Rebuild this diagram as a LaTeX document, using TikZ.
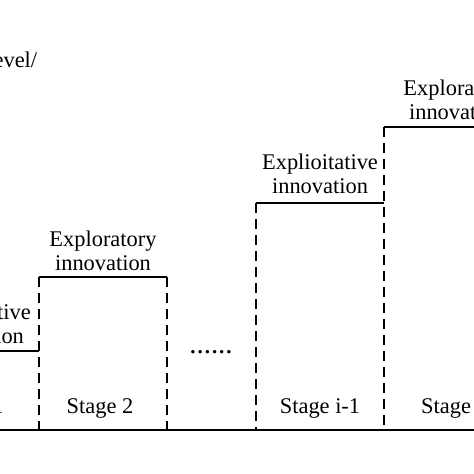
\documentclass[tikz,border=0pt]{standalone}
\usepackage{fontspec}
\setmainfont{Liberation Serif}
\usetikzlibrary{positioning}

\begin{document}
\begin{tikzpicture}[x = 1bp, y = 1bp, line width = 1.7bp,
	bound/.style = {dash pattern = on 10bp off 6bp},
	lab/.style = {align = center, inner sep = 0pt, font = \fontsize{22.5}{24.5}\selectfont}]
	\useasboundingbox (0,0) rectangle (474,474);
	\clip (0,0) rectangle (474,474);
	\def\base{44};

	% stage levels
	\draw (-87,123) -- (39,123);
	\draw (39,197) -- (167,197);
	\draw (256,271) -- (384,271);
	\draw (384,347) -- (530,347);

	% stage bounds
	\draw [bound] (39,197) -- (39,\base);
	\draw [bound] (167,197) -- (167,\base);
	\draw [bound] (256,271) -- (256,\base);
	\draw [bound] (384,347) -- (384,\base);

	\draw (0,\base) -- (474,\base);

	\node [lab] (inno1) at (-24,150) {Exploitative\\innovation};
	\node [lab] (inno2) at (103,223) {Exploratory\\innovation};
	\node [lab] (inno3) at (320,300) {Explioitative\\innovation};
	\node [lab] (inno4) at (457,374) {Exploratory\\innovation};

	\node [lab] (st1) at (-30,66) {Stage 1};
	\node [lab] (st2) at (100,66) {Stage 2};
	\node [lab] (st3) at (320,66) {Stage i-1};
	\node [lab] (st4) at (452,66) {Stage i};

	\node [lab, font = \fontsize{29}{30}\selectfont] (gap) at (211,122) {......};
	\node [lab, anchor = east] (yaxis) at (38,414) {level/};
\end{tikzpicture}
\end{document}
